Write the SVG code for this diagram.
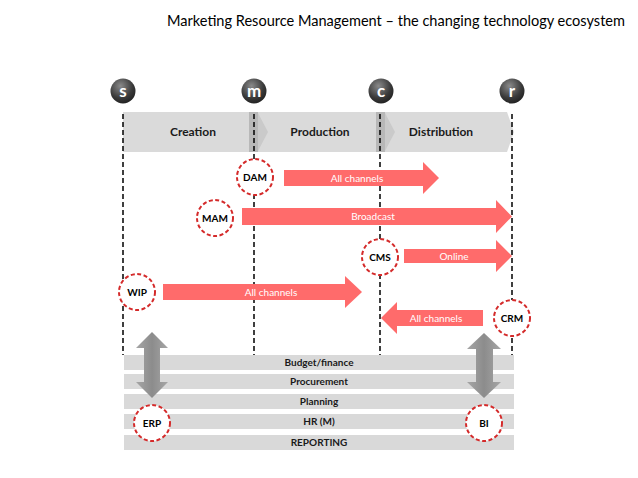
<svg xmlns="http://www.w3.org/2000/svg" width="638" height="478" viewBox="0 0 638 478">
<defs>
<radialGradient id="dg" cx="0.4" cy="0.3" r="0.8">
<stop offset="0" stop-color="#8a8a8a"/>
<stop offset="0.6" stop-color="#3a3a3a"/>
<stop offset="1" stop-color="#1a1a1a"/>
</radialGradient>
<linearGradient id="gg" x1="0" y1="0" x2="1" y2="0">
<stop offset="0" stop-color="#a6a6a6"/>
<stop offset="0.5" stop-color="#8c8c8c"/>
<stop offset="1" stop-color="#a6a6a6"/>
</linearGradient>
</defs>
<style>
text{font-family:Lato,"Open Sans","Liberation Sans",sans-serif}
.title{font-size:15px;fill:#000}
.ph{font-size:12px;font-weight:bold;fill:#1a1a1a;text-anchor:middle}
.lt{font-size:10px;fill:#ffffff;text-anchor:middle}
.nd{font-size:10px;font-weight:bold;fill:#000;text-anchor:middle}
.bt{font-size:10px;font-weight:bold;fill:#1a1a1a;text-anchor:middle}
.let{font-size:17px;font-weight:bold;fill:#fff;text-anchor:middle}
.dash{stroke:#000;stroke-width:1.5;stroke-dasharray:5,3;fill:none}
.rc{fill:#fff;stroke:#d42a2a;stroke-width:2;stroke-dasharray:4,2.5}
.ra{fill:#ff6b6b}
.bar{fill:#d9d9d9}
.ch{fill:#dadada}
.band{fill:#b8b8b8}
.tip{fill:#cacaca}
.dk{fill:url(#dg)}
.ga{fill:url(#gg)}
</style>
<rect width="638" height="478" fill="#fff"/>
<text class="title" x="167" y="26" textLength="458" lengthAdjust="spacingAndGlyphs">Marketing Resource Management – the changing technology ecosystem</text>

<g id="phases">
<polygon class="ch" points="384,112 507,112 514,132 507,152 384,152"/>
<polygon class="ch" points="258,112 376,112 376,152 258,152"/>
<rect class="band" x="376" y="112" width="9" height="40"/>
<polygon class="tip" points="385,113 395,132 385,151"/>
<rect class="ch" x="123" y="112" width="126" height="40"/>
<rect class="band" x="249" y="112" width="9" height="40"/>
<polygon class="tip" points="258,113 268,132 258,151"/>
<text class="ph" x="193" y="136">Creation</text>
<text class="ph" x="320" y="136">Production</text>
<text class="ph" x="441" y="136">Distribution</text>
</g>

<g id="connectors">
<line class="dash" x1="123" y1="114" x2="123" y2="355"/>
<line class="dash" x1="254" y1="114" x2="254" y2="355"/>
<line class="dash" x1="380" y1="114" x2="380" y2="355"/>
<line class="dash" x1="512" y1="114" x2="512" y2="355"/>
<g id="arrow-dam">
<polygon class="ra" points="284,170 423,170 423,162 439,178 423,194 423,186 284,186"/>
<text class="lt" x="357" y="182">All channels</text>
</g>
<g id="arrow-broadcast">
<polygon class="ra" points="242,208 496,208 496,200 512,216.5 496,233 496,225 242,225"/>
<text class="lt" x="373" y="220">Broadcast</text>
</g>
<g id="arrow-online">
<polygon class="ra" points="404,249 496,249 496,240 512,256 496,272 496,263 404,263"/>
<text class="lt" x="454" y="260">Online</text>
</g>
<g id="arrow-wip">
<polygon class="ra" points="163,284 345,284 345,276 362,292 345,308 345,300 163,300"/>
<text class="lt" x="271" y="296">All channels</text>
</g>
<g id="arrow-crm">
<polygon class="ra" points="483,310 397,310 397,302 381,318 397,334 397,326 483,326"/>
<text class="lt" x="436" y="322">All channels</text>
</g>
</g>

<g id="bars">
<rect class="bar" x="124" y="355" width="390" height="15"/>
<rect class="bar" x="124" y="374" width="390" height="15"/>
<rect class="bar" x="124" y="394" width="390" height="15"/>
<rect class="bar" x="124" y="414" width="390" height="15"/>
<rect class="bar" x="124" y="435" width="390" height="15"/>
<text class="bt" x="319" y="366">Budget/finance</text>
<text class="bt" x="319" y="385">Procurement</text>
<text class="bt" x="319" y="405">Planning</text>
<text class="bt" x="319" y="425">HR (M)</text>
<text class="bt" x="319" y="446">REPORTING</text>
</g>

<g id="updown-left">
<polygon class="ga" points="152,332 168,348 160,348 160,382 168,382 152,398 136,382 144,382 144,348 136,348"/>
</g>
<g id="updown-right">
<polygon class="ga" points="484,333 501,349 493,349 493,382 501,382 484,398 467,382 476,382 476,349 467,349"/>
</g>

<g id="s"><circle class="dk" cx="123" cy="91" r="12.5"/><text class="let" x="123" y="97">s</text></g>
<g id="m"><circle class="dk" cx="254" cy="91" r="12.5"/><text class="let" x="254" y="97">m</text></g>
<g id="c"><circle class="dk" cx="381" cy="91" r="12.5"/><text class="let" x="381" y="97">c</text></g>
<g id="r"><circle class="dk" cx="512" cy="91" r="12.5"/><text class="let" x="512" y="97">r</text></g>

<g id="DAM"><circle class="rc" cx="255" cy="177" r="18"/><text class="nd" x="255" y="181">DAM</text></g>
<g id="MAM"><circle class="rc" cx="215" cy="218" r="18"/><text class="nd" x="215" y="222">MAM</text></g>
<g id="CMS"><circle class="rc" cx="380" cy="257" r="18"/><text class="nd" x="380" y="261">CMS</text></g>
<g id="WIP"><circle class="rc" cx="137" cy="292" r="18"/><text class="nd" x="137" y="296">WIP</text></g>
<g id="CRM"><circle class="rc" cx="512" cy="318" r="18"/><text class="nd" x="512" y="322">CRM</text></g>
<g id="ERP"><circle class="rc" cx="152" cy="423" r="18"/><text class="nd" x="152" y="427">ERP</text></g>
<g id="BI"><circle class="rc" cx="484" cy="423" r="18"/><text class="nd" x="484" y="427">BI</text></g>
</svg>
